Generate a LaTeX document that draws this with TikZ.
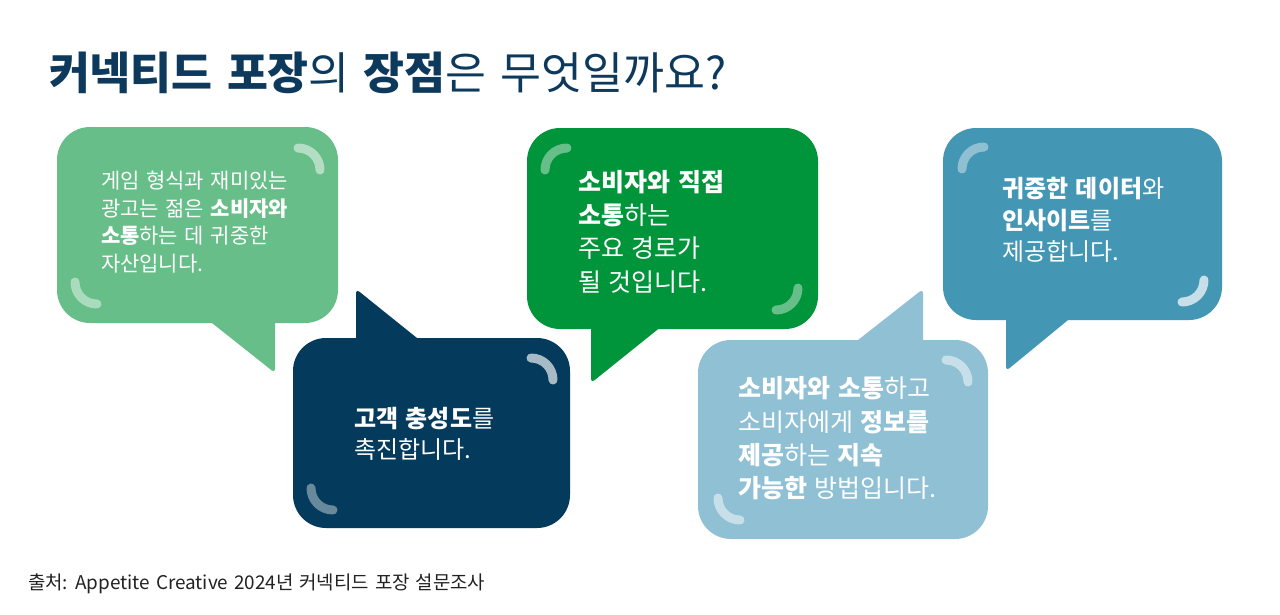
\documentclass[tikz,border=0pt]{standalone}
\usepackage{fontspec}
\setmainfont{Noto Sans CJK KR}[WordSpace=1.4]
\definecolor{titlec}{HTML}{0D3A5C}
\definecolor{footc}{HTML}{222222}
\definecolor{bA}{HTML}{67BE88}
\definecolor{bB}{HTML}{043A5B}
\definecolor{bC}{HTML}{00953A}
\definecolor{bD}{HTML}{8FC0D4}
\definecolor{bE}{HTML}{4496B5}
\tikzset{
  txt/.style={anchor=base west, inner sep=0pt, outer sep=0pt, text=white},
  hl/.style={line width=9pt, line cap=round, draw=white},
  bubble/.style={rounded corners=33pt},
  tailshape/.style={rounded corners=4pt},
}
\begin{document}
\begin{tikzpicture}[x=1pt,y=-1pt]
\useasboundingbox (0,0) rectangle (1280,614);
\fill[white] (0,0) rectangle (1280,614);

% title
\node[txt, text=titlec, font=\fontsize{44.5}{50}\selectfont] (title) at (49,89)
  {\textbf{커넥티드 포장}의 \textbf{장점}은 무엇일까요?};

% bubble A (light green)
\fill[bA, bubble] (57,127) rectangle (338,323);
\fill[bA, tailshape] (199.4,313) -- (275,373) -- (275,313) -- cycle;
\draw[hl, draw opacity=0.5] (298,148) .. controls (310.2,148) and (320,157.8) .. (320,170);
\draw[hl, draw opacity=0.45] (75,282) .. controls (75,294.2) and (84.8,304) .. (97,304);

% bubble B (navy)
\fill[bB, bubble] (293,338) rectangle (570,528);
\fill[bB, tailshape] (356,348) -- (356,289) -- (429.4,348) -- cycle;
\draw[hl, draw opacity=0.65] (531,358) .. controls (543.2,358) and (553,367.8) .. (553,380);
\draw[hl, draw opacity=0.4] (311,488) .. controls (311,500.2) and (320.8,510) .. (333,510);

% bubble C (green)
\fill[bC, bubble] (527,128) rectangle (818,329);
\fill[bC, tailshape] (591,319) -- (591,383) -- (670.7,319) -- cycle;
\draw[hl, draw opacity=0.4] (545,170) .. controls (545,157.8) and (554.8,148) .. (567,148);
\draw[hl, draw opacity=0.4] (776,310) .. controls (788.2,310) and (798,300.2) .. (798,288);

% bubble D (light blue)
\fill[bD, bubble] (698,340) rectangle (988,539);
\fill[bD, tailshape] (923,350) -- (923,289) -- (845.3,350) -- cycle;
\draw[hl, draw opacity=0.5] (946,360) .. controls (958.2,360) and (968,369.8) .. (968,382);
\draw[hl, draw opacity=0.5] (718,498) .. controls (718,510.2) and (727.8,520) .. (740,520);

% bubble E (teal)
\fill[bE, bubble] (943,128) rectangle (1222,320);
\fill[bE, tailshape] (1006,310) -- (1006,371) -- (1080.2,310) -- cycle;
\draw[hl, draw opacity=0.4] (962,169) .. controls (962,156.8) and (971.8,147) .. (984,147);
\draw[hl, draw opacity=0.7] (1182,302) .. controls (1194.2,302) and (1204,292.2) .. (1204,280);

% texts bubble A
\begin{scope}[every node/.append style={font=\fontsize{21}{27}\selectfont}]
\node[txt] (a1) at (101,188) {게임 형식과 재미있는};
\node[txt] (a2) at (101,216) {광고는 젊은 \textbf{소비자와}};
\node[txt] (a3) at (101,243) {\textbf{소통}하는 데 귀중한};
\node[txt] (a4) at (101,271) {자산입니다.};
\end{scope}

% texts bubble B
\begin{scope}[every node/.append style={font=\fontsize{24}{30}\selectfont}]
\node[txt] (b1) at (354,427) {\textbf{고객 충성도}를};
\node[txt] (b2) at (354,458) {촉진합니다.};
\end{scope}

% texts bubble C
\begin{scope}[every node/.append style={font=\fontsize{25}{32}\selectfont}]
\node[txt] (c1) at (578,191) {\textbf{소비자와 직접}};
\node[txt] (c2) at (578,224) {\textbf{소통}하는};
\node[txt] (c3) at (578,257) {주요 경로가};
\node[txt] (c4) at (578,291) {될 것입니다.};
\end{scope}

% texts bubble D
\begin{scope}[every node/.append style={font=\fontsize{25}{32}\selectfont}]
\node[txt] (d1) at (738,397) {\textbf{소비자와 소통}하고};
\node[txt] (d2) at (738,431) {소비자에게 \textbf{정보를}};
\node[txt] (d3) at (738,464) {\textbf{제공}하는 \textbf{지속}};
\node[txt] (d4) at (738,497) {\textbf{가능한} 방법입니다.};
\end{scope}

% texts bubble E
\begin{scope}[every node/.append style={font=\fontsize{24}{30}\selectfont}]
\node[txt] (e1) at (1002,197) {\textbf{귀중한 데이터}와};
\node[txt] (e2) at (1002,229) {\textbf{인사이트}를};
\node[txt] (e3) at (1002,260) {제공합니다.};
\end{scope}

% footer
\node[txt, text=footc, font=\fontsize{18.9}{22}\selectfont] (src) at (28,589)
  {출처: Appetite Creative 2024년 커넥티드 포장 설문조사};
\end{tikzpicture}
\end{document}
